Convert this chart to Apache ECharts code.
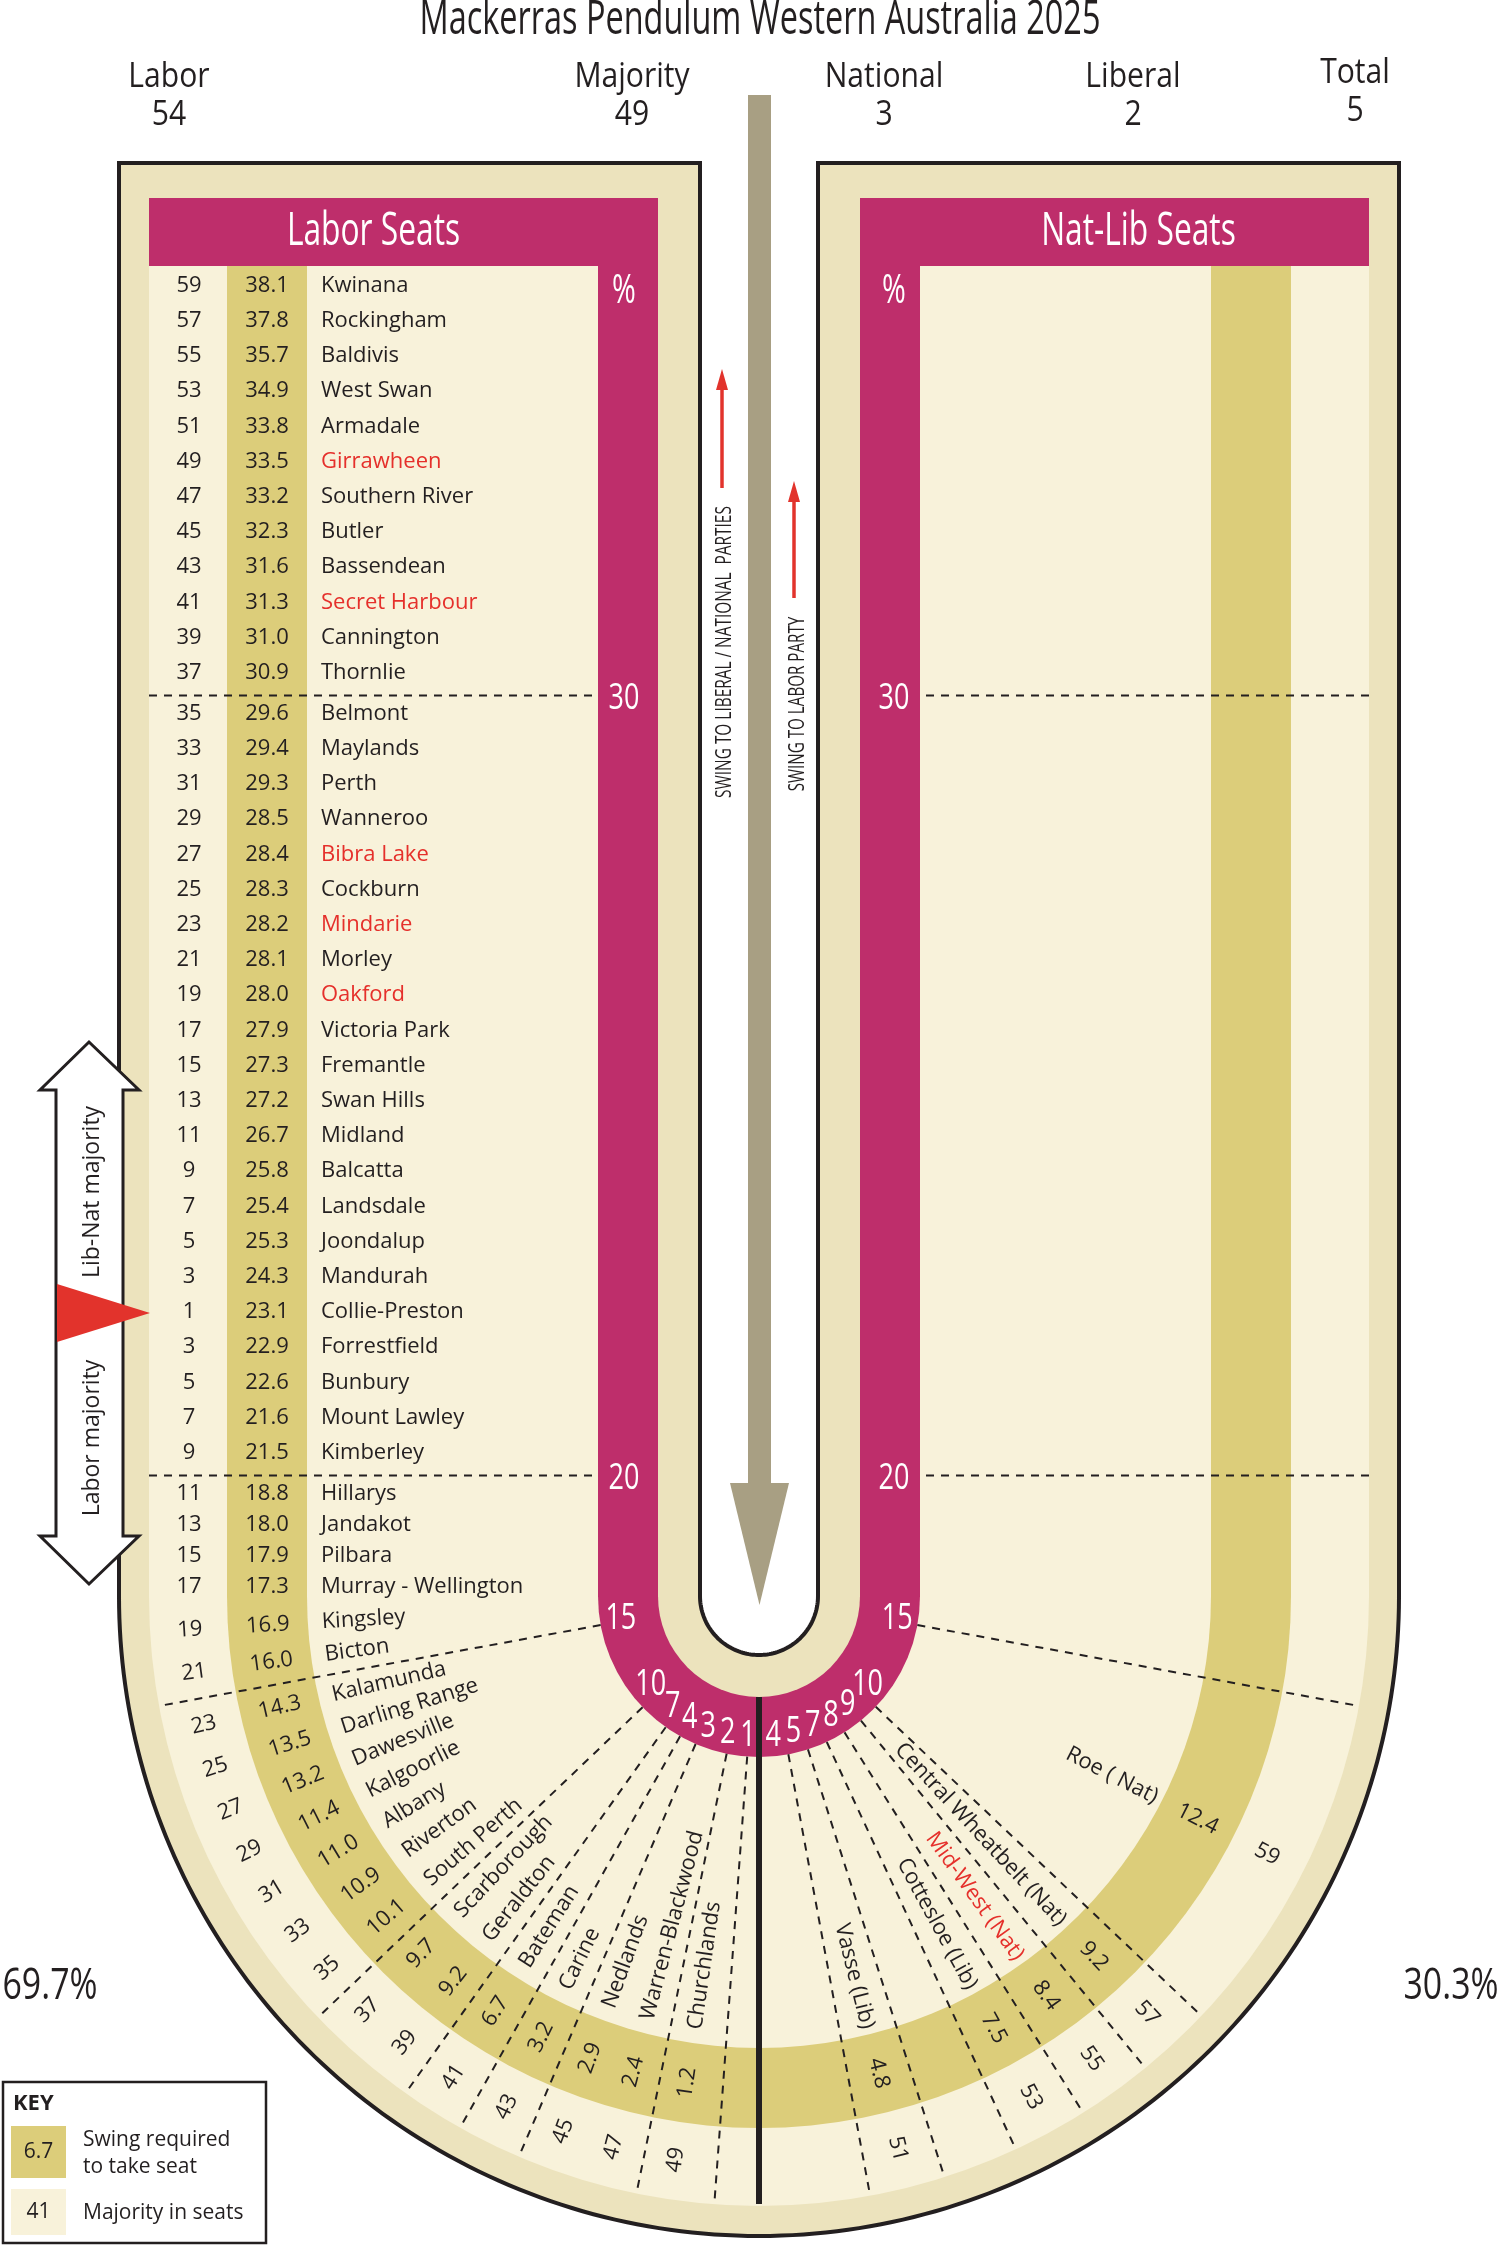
<!DOCTYPE html>
<html>
<head>
<meta charset="utf-8">
<title>Mackerras Pendulum Western Australia 2025</title>
<script src="https://cdn.jsdelivr.net/npm/echarts@6.0.0/dist/echarts.min.js"></script>
<style>
html,body{margin:0;padding:0;background:#ffffff;}
#chart{width:1500px;height:2246px;}
</style>
</head>
<body>
<div id="chart"></div>
<script>
// ================= DATA =================
const chartTitle = 'Mackerras Pendulum Western Australia 2025';
const partyLabels = ['Labor', 'Majority', 'National', 'Liberal', 'Total'];
const partyValues = ['54', '49', '3', '2', '5'];
const voteShares = ['69.7%', '30.3%'];

const laborSeats = ['Kwinana','Rockingham','Baldivis','West Swan','Armadale','Girrawheen','Southern River','Butler','Bassendean','Secret Harbour','Cannington','Thornlie',
  'Belmont','Maylands','Perth','Wanneroo','Bibra Lake','Cockburn','Mindarie','Morley','Oakford','Victoria Park','Fremantle','Swan Hills','Midland','Balcatta','Landsdale','Joondalup','Mandurah','Collie-Preston','Forrestfield','Bunbury','Mount Lawley','Kimberley',
  'Hillarys','Jandakot','Pilbara','Murray - Wellington','Kingsley','Bicton',
  'Kalamunda','Darling Range','Dawesville','Kalgoorlie','Albany','Riverton','South Perth','Scarborough','Geraldton','Bateman','Carine','Nedlands','Warren-Blackwood','Churchlands'];
const laborMargins = [38.1,37.8,35.7,34.9,33.8,33.5,33.2,32.3,31.6,31.3,31.0,30.9,
  29.6,29.4,29.3,28.5,28.4,28.3,28.2,28.1,28.0,27.9,27.3,27.2,26.7,25.8,25.4,25.3,24.3,23.1,22.9,22.6,21.6,21.5,
  18.8,18.0,17.9,17.3,16.9,16.0,
  14.3,13.5,13.2,11.4,11.0,10.9,10.1,9.7,9.2,6.7,3.2,2.9,2.4,1.2];
const laborMajority = [59,57,55,53,51,49,47,45,43,41,39,37,35,33,31,29,27,25,23,21,19,17,15,13,11,9,7,5,3,1,
  3,5,7,9,11,13,15,17,19,21,23,25,27,29,31,33,35,37,39,41,43,45,47,49];
const laborTicks = [30,20,15,10,7,4,3,2,1];

const natLibSeats = ['Roe ( Nat)','Central Wheatbelt (Nat)','Mid-West (Nat)','Cottesloe (Lib)','Vasse (Lib)'];
const natLibMargins = [12.4,9.2,8.4,7.5,4.8];
const natLibMajority = [59,57,55,53,51];
const natLibTicks = [30,20,15,10,9,8,7,5,4];

const highlightedSeats = ['Girrawheen','Secret Harbour','Bibra Lake','Mindarie','Oakford','Mid-West (Nat)'];

const keyItems = [
  { sample: '6.7', lines: ['Swing required', 'to take seat'] },
  { sample: '41', lines: ['Majority in seats'] }
];

// ================= STYLE / LAYOUT =================
const SANS = "'Open Sans','Noto Sans','DejaVu Sans',sans-serif";
const INK = '#231f20';
const PINK = '#be2e6b';
const GOLD = '#dccd7a';
const LIGHT = '#f8f2da';
const BEIGE = '#ece3bd';
const TAUPE = '#a89f83';
const RED = '#e2332c';
const RED_TXT = '#e5302b';
const DEG = Math.PI / 180;

const CX = 759, CY = 1596;
const R_HOLE = 59, R_BEIGE = 101, R_PINK = 161, R_NAMES = 452, R_GOLD = 532, R_NUM = 610, R_OUT = 640;
const BOX_TOP = 163, HEAD_TOP = 198, HEAD_BOT = 266;
const ROW0 = 285.5, ROW_H = 35.2, ROW_H_LOW = 31, Y_COMPRESS = 1480, ROW_GAP = 5.6, DASH_SHIFT = 2.5;
const TH_START = 3.4, GAP_DEG = 1.0;
function stepDeg(t) { return 4.25 + 0.015 * t; }
const NAT_LOW = 79.5, NAT_STEP = 7.2;
const R_TXT_NAME = 438, R_TXT_NAME_R = 446, R_TXT_PCT = 492, R_TXT_NUM = 570, R_RING_LBL = 140, R_LBL_STRAIGHT = 135;
const RING_FONT = 36, RING_SX = 0.75, RING_CHAR_W = RING_FONT * 0.572 * RING_SX, RING_PAD = 5;

// ---- layout of the Labor side (rows down the left, then round the bowl) ----
function ticksBetween(hi, lo, ticks) { return ticks.filter(t => t <= hi && t > lo); }
const laborPos = [];
const laborLines = [];
(function () {
  let y = ROW0, th = null;
  for (let i = 0; i < laborMargins.length; i++) {
    if (i > 0) {
      const ts = ticksBetween(laborMargins[i - 1], laborMargins[i], laborTicks);
      if (th === null) {
        const y0 = y;
        y += (y > Y_COMPRESS ? ROW_H_LOW : ROW_H) + (ts.length ? ROW_GAP : 0);
        ts.forEach(t => laborLines.push({ t: t, arc: false, y: (y0 + y) / 2 + DASH_SHIFT }));
        if (y > CY + 8) th = TH_START;
      } else {
        const a0 = th;
        th += stepDeg(th) + (ts.length ? GAP_DEG : 0);
        ts.forEach((t, k) => laborLines.push({ t: t, arc: true, a: a0 + (th - a0) * (k + 1) / (ts.length + 1) }));
      }
    }
    laborPos.push(th === null ? { arc: false, y: y } : { arc: true, a: th });
  }
  const last = laborMargins[laborMargins.length - 1];
  const rest = laborTicks.filter(t => t < last);
  rest.forEach((t, k) => laborLines.push({ t: t, arc: true, a: th + (90 - th) * (k + 1) / (rest.length + 1) }));
})();

// ---- layout of the Nat-Lib side ----
const natSmall = natLibTicks.filter(t => t < 15).sort((a, b) => a - b);
const natLines = natLibTicks.map(t => {
  const L = laborLines.find(l => l.t === t);
  if (t >= 15 && L) return Object.assign({}, L);
  return { t: t, arc: true, a: NAT_LOW - natSmall.indexOf(t) * NAT_STEP };
});
const natPos = natLibMargins.map(m => {
  const above = natLines.filter(l => l.t > m && l.arc).sort((a, b) => a.t - b.t)[0];
  const below = natLines.filter(l => l.t < m).sort((a, b) => b.t - a.t)[0];
  const aBelow = below ? below.a : 90;
  return { arc: true, a: (above.a + aBelow) / 2 };
});

// ---- ring label placement (just above each line, kept apart) ----
function labelAngle(a, text) {
  const hw = text.length * RING_CHAR_W / 2;
  return a - (hw / R_RING_LBL) * Math.sin(a * DEG) / DEG;
}
function placeRingLabels(lines) {
  lines.filter(l => l.arc).forEach(l => { l.la = labelAngle(l.a, String(l.t)); });
  const small = lines.filter(l => l.arc && l.t < 15).sort((a, b) => a.a - b.a);
  let prev = null;
  small.forEach(l => {
    if (prev) {
      const sep = (RING_CHAR_W * (String(prev.t).length + String(l.t).length) / 2 + RING_PAD) / R_RING_LBL / DEG;
      l.la = Math.max(l.la, prev.la + sep);
    }
    prev = l;
  });
}
placeRingLabels(laborLines);
placeRingLabels(natLines);

function ptL(pos, r) { return pos.arc ? [CX - r * Math.cos(pos.a * DEG), CY + r * Math.sin(pos.a * DEG)] : [CX - r, pos.y]; }
function ptR(pos, r) { return pos.arc ? [CX + r * Math.cos(pos.a * DEG), CY + r * Math.sin(pos.a * DEG)] : [CX + r, pos.y]; }

function seatText(api, p, text, rot, align, color, size) {
  const c = api.coord(p);
  return {
    type: 'text', x: c[0], y: c[1], rotation: rot,
    style: { text: text, fill: color, fontSize: size || 22, fontFamily: SANS,
      align: align, textAlign: align, verticalAlign: 'middle', textVerticalAlign: 'middle' }
  };
}

function renderLabor(params, api) {
  const i = api.value(0);
  const pos = laborPos[i];
  const rot = pos.arc ? Math.max(pos.a, 0) * DEG : 0;
  const red = highlightedSeats.indexOf(laborSeats[i]) >= 0;
  return { type: 'group', children: [
    seatText(api, ptL(pos, R_TXT_NUM), String(laborMajority[i]), rot, 'center', INK),
    seatText(api, ptL(pos, R_TXT_PCT), laborMargins[i].toFixed(1), rot, 'center', INK),
    seatText(api, ptL(pos, R_TXT_NAME), laborSeats[i], rot, 'left', red ? RED_TXT : INK)
  ] };
}
function renderNat(params, api) {
  const i = api.value(0);
  const pos = natPos[i];
  const rot = -pos.a * DEG;
  const red = highlightedSeats.indexOf(natLibSeats[i]) >= 0;
  return { type: 'group', children: [
    seatText(api, ptR(pos, R_TXT_NUM), String(natLibMajority[i]), rot, 'center', INK),
    seatText(api, ptR(pos, R_TXT_PCT), natLibMargins[i].toFixed(1), rot, 'center', INK),
    seatText(api, ptR(pos, R_TXT_NAME_R), natLibSeats[i], rot, 'right', red ? RED_TXT : INK)
  ] };
}
function tickGroup(api, L, side) {
  let p1, p2, lp;
  if (!L.arc) {
    p1 = [CX + side * R_NUM, L.y]; p2 = [CX + side * R_PINK, L.y]; lp = [CX + side * R_LBL_STRAIGHT, L.y + 3];
  } else {
    const a = L.a * DEG;
    p1 = [CX + side * R_PINK * Math.cos(a), CY + R_PINK * Math.sin(a)];
    p2 = [CX + side * R_NUM * Math.cos(a), CY + R_NUM * Math.sin(a)];
    const la = L.la * DEG;
    lp = [CX + side * R_RING_LBL * Math.cos(la), CY + R_RING_LBL * Math.sin(la)];
  }
  const c1 = api.coord(p1), c2 = api.coord(p2), cl = api.coord(lp);
  return { type: 'group', children: [
    { type: 'line', shape: { x1: c1[0], y1: c1[1], x2: c2[0], y2: c2[1] }, style: { stroke: INK, lineWidth: 2, lineDash: [8, 7] } },
    { type: 'text', x: cl[0], y: cl[1], scaleX: RING_SX,
      style: { text: String(L.t), fill: '#ffffff', fontSize: RING_FONT, fontFamily: SANS,
        align: 'center', textAlign: 'center', verticalAlign: 'middle', textVerticalAlign: 'middle' } }
  ] };
}

// ================= DECORATION (graphic) =================
const G = [];
function gText(x, y, text, o) {
  return { type: 'text', x: x, y: y, rotation: o.rot || 0, scaleX: o.sx || 1,
    style: { text: text, fill: o.color || INK, fontSize: o.size || 22, fontFamily: SANS, fontWeight: o.weight || 'normal',
      align: o.align || 'center', textAlign: o.align || 'center', verticalAlign: 'middle', textVerticalAlign: 'middle' } };
}
function uBand(r, top, fill) {
  G.push({ type: 'rect', shape: { x: CX - r, y: top, width: 2 * r, height: CY - top + 1 }, style: { fill: fill } });
  G.push({ type: 'sector', shape: { cx: CX, cy: CY, r0: 0, r: r, startAngle: 0, endAngle: Math.PI, clockwise: true }, style: { fill: fill } });
}
function outlinePts() {
  const pts = [[CX - R_OUT, BOX_TOP], [CX - R_HOLE, BOX_TOP]];
  for (let k = 0; k <= 90; k++) { const a = Math.PI - k * Math.PI / 90; pts.push([CX + R_HOLE * Math.cos(a), CY + R_HOLE * Math.sin(a)]); }
  pts.push([CX + R_HOLE, BOX_TOP], [CX + R_OUT, BOX_TOP]);
  for (let k = 0; k <= 180; k++) { const a = k * Math.PI / 180; pts.push([CX + R_OUT * Math.cos(a), CY + R_OUT * Math.sin(a)]); }
  return pts;
}
const OUTLINE = outlinePts();
G.push({ type: 'polygon', shape: { points: OUTLINE }, style: { fill: BEIGE } });
uBand(R_NUM, HEAD_BOT, LIGHT);
uBand(R_GOLD, HEAD_BOT, GOLD);
uBand(R_NAMES, HEAD_BOT, LIGHT);
uBand(R_PINK, HEAD_TOP, PINK);
uBand(R_BEIGE, BOX_TOP, BEIGE);
uBand(R_HOLE, BOX_TOP - 2, '#ffffff');
G.push({ type: 'rect', shape: { x: CX - R_NUM, y: HEAD_TOP, width: R_NUM - R_BEIGE, height: HEAD_BOT - HEAD_TOP }, style: { fill: PINK } });
G.push({ type: 'rect', shape: { x: CX + R_BEIGE, y: HEAD_TOP, width: R_NUM - R_BEIGE, height: HEAD_BOT - HEAD_TOP }, style: { fill: PINK } });
// centre dividing line
G.push({ type: 'rect', shape: { x: CX - 3, y: CY + R_BEIGE, width: 6, height: R_NUM - R_BEIGE - 2 }, style: { fill: INK } });
// outline
G.push({ type: 'polygon', shape: { points: OUTLINE }, style: { fill: null, stroke: INK, lineWidth: 4, lineJoin: 'miter' } });

// centre pendulum arrow
G.push({ type: 'rect', shape: { x: 748, y: 95, width: 23, height: 1390 }, style: { fill: TAUPE } });
G.push({ type: 'polygon', shape: { points: [[730, 1483], [789, 1483], [759.5, 1605]] }, style: { fill: TAUPE } });
// red swing arrows
G.push({ type: 'line', shape: { x1: 722, y1: 488, x2: 722, y2: 388 }, style: { stroke: RED, lineWidth: 3.5 } });
G.push({ type: 'polygon', shape: { points: [[716, 390], [728, 390], [722, 369]] }, style: { fill: RED } });
G.push({ type: 'line', shape: { x1: 794, y1: 598, x2: 794, y2: 500 }, style: { stroke: RED, lineWidth: 3.5 } });
G.push({ type: 'polygon', shape: { points: [[788, 502], [800, 502], [794, 481]] }, style: { fill: RED } });
G.push(gText(725, 652, 'SWING TO LIBERAL / NATIONAL  PARTIES', { size: 22, sx: 0.7, rot: Math.PI / 2 }));
G.push(gText(798, 704, 'SWING TO LABOR PARTY', { size: 22, sx: 0.69, rot: Math.PI / 2 }));

// title and headers
G.push(gText(760, 21, chartTitle, { size: 47, sx: 0.69 }));
const partyX = [169, 632, 884, 1133, 1355];
const partyY = [77, 77, 77, 77, 73];
partyLabels.forEach((l, i) => {
  G.push(gText(partyX[i], partyY[i], l, { size: 35, sx: 0.86 }));
  G.push(gText(partyX[i], partyY[i] + 38, partyValues[i], { size: 35, sx: 0.86 }));
});
G.push(gText(CX - (R_NUM + R_PINK) / 2, (HEAD_TOP + HEAD_BOT) / 2, 'Labor Seats', { size: 46, sx: 0.69, color: '#ffffff' }));
G.push(gText(CX + (R_NUM + R_PINK) / 2 - 6, (HEAD_TOP + HEAD_BOT) / 2, 'Nat-Lib Seats', { size: 46, sx: 0.69, color: '#ffffff' }));
G.push(gText(CX - R_LBL_STRAIGHT, ROW0 + 6, '%', { size: 40, sx: 0.72, color: '#ffffff' }));
G.push(gText(CX + R_LBL_STRAIGHT, ROW0 + 6, '%', { size: 40, sx: 0.72, color: '#ffffff' }));
G.push(gText(50, 1986, voteShares[0], { size: 44, sx: 0.77 }));
G.push(gText(1451, 1986, voteShares[1], { size: 44, sx: 0.77 }));

// majority double arrow
G.push({ type: 'polygon', shape: { points: [[89, 1042], [139, 1090], [123, 1090], [123, 1536], [139, 1536], [89, 1584], [40, 1536], [56, 1536], [56, 1090], [40, 1090]] },
  style: { fill: '#ffffff', stroke: INK, lineWidth: 3, lineJoin: 'miter' } });
G.push({ type: 'polygon', shape: { points: [[57, 1284], [150, 1313], [57, 1342]] }, style: { fill: RED } });
G.push(gText(92, 1192, 'Lib-Nat majority', { size: 23, rot: Math.PI / 2 }));
G.push(gText(92, 1438, 'Labor majority', { size: 23, rot: Math.PI / 2 }));

// key
G.push({ type: 'rect', shape: { x: 3, y: 2082, width: 263, height: 161 }, style: { fill: '#ffffff', stroke: INK, lineWidth: 2.5 } });
G.push(gText(13, 2104, 'KEY', { size: 22, weight: 'bold', align: 'left' }));
G.push({ type: 'rect', shape: { x: 11, y: 2126, width: 55, height: 52 }, style: { fill: GOLD } });
G.push({ type: 'rect', shape: { x: 11, y: 2189, width: 55, height: 46 }, style: { fill: LIGHT } });
G.push(gText(38.5, 2152, keyItems[0].sample, { size: 21 }));
G.push(gText(83, 2140, keyItems[0].lines[0], { size: 21, align: 'left' }));
G.push(gText(83, 2167, keyItems[0].lines[1], { size: 21, align: 'left' }));
G.push(gText(38.5, 2212, keyItems[1].sample, { size: 21 }));
G.push(gText(83, 2213, keyItems[1].lines[0], { size: 21, align: 'left' }));

// ================= CHART =================
const chart = echarts.init(document.getElementById('chart'), null, { renderer: 'canvas', width: 1500, height: 2246 });
chart.setOption({
  animation: false,
  backgroundColor: '#ffffff',
  grid: { left: 0, right: 0, top: 0, bottom: 0, containLabel: false },
  xAxis: { type: 'value', min: 0, max: 1500, show: false },
  yAxis: { type: 'value', min: 0, max: 2246, inverse: true, show: false },
  graphic: { elements: G },
  series: [
    { type: 'custom', name: 'Labor ticks', coordinateSystem: 'cartesian2d', z: 4, silent: true,
      data: laborLines.map((_, i) => [i, i]), encode: { x: 0, y: 1 },
      renderItem: (p, api) => tickGroup(api, laborLines[api.value(0)], -1) },
    { type: 'custom', name: 'Nat-Lib ticks', coordinateSystem: 'cartesian2d', z: 4, silent: true,
      data: natLines.map((_, i) => [i, i]), encode: { x: 0, y: 1 },
      renderItem: (p, api) => tickGroup(api, natLines[api.value(0)], 1) },
    { type: 'custom', name: 'Labor seats', coordinateSystem: 'cartesian2d', z: 5, silent: true,
      data: laborSeats.map((_, i) => [i, i]), encode: { x: 0, y: 1 }, renderItem: renderLabor },
    { type: 'custom', name: 'Nat-Lib seats', coordinateSystem: 'cartesian2d', z: 5, silent: true,
      data: natLibSeats.map((_, i) => [i, i]), encode: { x: 0, y: 1 }, renderItem: renderNat }
  ]
});
</script>
</body>
</html>
